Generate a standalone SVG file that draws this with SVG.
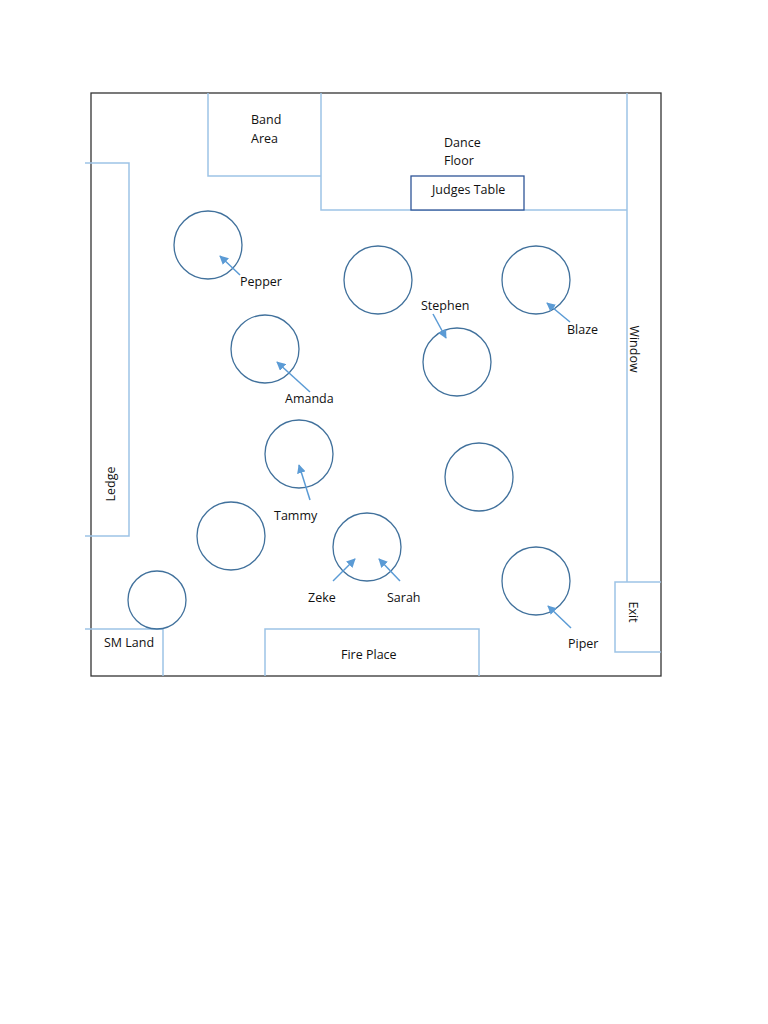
<svg xmlns="http://www.w3.org/2000/svg" width="768" height="1024" viewBox="0 0 768 1024">
<defs>
<marker id="ah" viewBox="0 0 10 10" refX="9" refY="5" markerWidth="6" markerHeight="6" orient="auto"><path d="M0,0 L10,5 L0,10 z" fill="#5b9bd5"/></marker>
</defs>
<style>
.w{stroke:#9dc3e6;stroke-width:1.5;fill:none}
.t{stroke:#41719c;stroke-width:1.3;fill:none}
.a{stroke:#5b9bd5;stroke-width:1.5;marker-end:url(#ah)}
text{font-family:"Open Sans","Liberation Sans",sans-serif;font-size:12.5px;fill:#111}
</style>
<rect width="768" height="1024" fill="#fff"/>
<rect x="91" y="93" width="570" height="583" fill="none" stroke="#333" stroke-width="1.3"/>
<g id="walls">
<polyline class="w" points="208,93 208,176 321,176"/>
<polyline class="w" points="321,93 321,210 627,210"/>
<rect x="411" y="176" width="113" height="34" fill="#fff" stroke="#2e5597" stroke-width="1.3"/>
<line class="w" x1="627" y1="93" x2="627" y2="582"/>
<polyline class="w" points="661,582 615,582 615,652 661,652"/>
<polyline class="w" points="85,163 129,163 129,536 85,536"/>
<polyline class="w" points="85,629 163,629 163,676"/>
<polyline class="w" points="265,676 265,629 479,629 479,676"/>
</g>
<g id="tables">
<circle class="t" cx="208" cy="245" r="34"/>
<circle class="t" cx="378" cy="280" r="34"/>
<circle class="t" cx="265" cy="349" r="34"/>
<circle class="t" cx="457" cy="362" r="34"/>
<circle class="t" cx="536" cy="280" r="34"/>
<circle class="t" cx="299" cy="454" r="34"/>
<circle class="t" cx="479" cy="477" r="34"/>
<circle class="t" cx="231" cy="536" r="34"/>
<circle class="t" cx="367" cy="547" r="34"/>
<circle class="t" cx="536" cy="581" r="34"/>
<circle class="t" cx="157" cy="600" r="29"/>
</g>
<g id="connectors">
<line class="a" x1="240" y1="275" x2="220" y2="256"/>
<line class="a" x1="310" y1="392" x2="277" y2="362"/>
<line class="a" x1="433" y1="314" x2="446" y2="338"/>
<line class="a" x1="570" y1="322" x2="547" y2="303"/>
<line class="a" x1="310" y1="500" x2="299" y2="465"/>
<line class="a" x1="333" y1="581" x2="355" y2="559"/>
<line class="a" x1="400" y1="581" x2="379" y2="559"/>
<line class="a" x1="571" y1="628" x2="548" y2="606"/>
</g>
<g id="labels">
<text x="251" y="124">Band</text>
<text x="251" y="143">Area</text>
<text x="444" y="147">Dance</text>
<text x="444" y="165">Floor</text>
<text x="432" y="194">Judges Table</text>
<text x="240" y="286">Pepper</text>
<text x="285" y="403">Amanda</text>
<text x="421" y="310">Stephen</text>
<text x="567" y="334">Blaze</text>
<text x="274" y="520">Tammy</text>
<text x="308" y="602">Zeke</text>
<text x="387" y="602">Sarah</text>
<text x="568" y="648">Piper</text>
<text x="104" y="647">SM Land</text>
<text x="341" y="659">Fire Place</text>
<text transform="translate(630,349) rotate(90)" text-anchor="middle">Window</text>
<text transform="translate(629,612) rotate(90)" text-anchor="middle">Exit</text>
<text transform="translate(115,484) rotate(-90)" text-anchor="middle">Ledge</text>
</g>
</svg>
